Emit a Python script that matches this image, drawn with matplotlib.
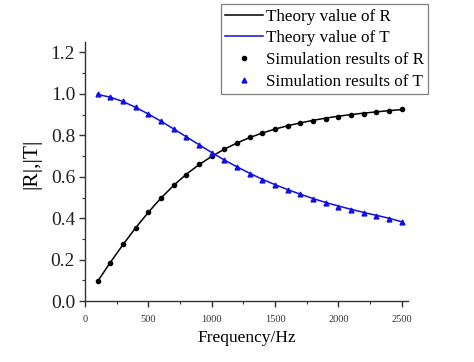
import matplotlib
matplotlib.use("Agg")
import matplotlib.pyplot as plt
from matplotlib.ticker import MultipleLocator

plt.rcParams['font.family'] = ['Liberation Serif', 'DejaVu Serif']

freq = [100, 200, 300, 400, 500, 600, 700, 800, 900, 1000, 1100, 1200, 1300,
        1400, 1500, 1600, 1700, 1800, 1900, 2000, 2100, 2200, 2300, 2400, 2500]

# theory curves
r_theory = [0.095, 0.186, 0.272, 0.353, 0.428, 0.497, 0.558, 0.612, 0.658, 0.698,
            0.733, 0.763, 0.789, 0.811, 0.830, 0.846, 0.860, 0.872, 0.883, 0.892,
            0.900, 0.907, 0.913, 0.919, 0.924]
t_theory = [0.997, 0.984, 0.963, 0.935, 0.903, 0.868, 0.831, 0.793, 0.755, 0.717,
            0.681, 0.648, 0.617, 0.588, 0.562, 0.538, 0.516, 0.495, 0.476, 0.459,
            0.443, 0.428, 0.414, 0.400, 0.383]

# simulation points
r_sim = [0.095, 0.185, 0.275, 0.355, 0.43, 0.50, 0.56, 0.61, 0.66, 0.70,
         0.735, 0.765, 0.79, 0.81, 0.83, 0.845, 0.86, 0.87, 0.88, 0.89,
         0.898, 0.905, 0.912, 0.918, 0.925]
t_sim = [0.997, 0.985, 0.965, 0.935, 0.905, 0.87, 0.83, 0.79, 0.753, 0.715,
         0.68, 0.645, 0.615, 0.585, 0.56, 0.535, 0.515, 0.495, 0.475, 0.455,
         0.44, 0.425, 0.41, 0.395, 0.38]

fig = plt.figure(figsize=(4.74, 3.62), dpi=100)
ax = fig.add_axes([0.179, 0.168, 0.682, 0.716])

ax.plot(freq, r_theory, color='black', lw=1.1, label='Theory value of R')
ax.plot(freq, t_theory, color='#1010e0', lw=1.1, label='Theory value of T')
ax.plot(freq, r_sim, 'o', color='black', ms=3, ls='none', label='Simulation results of R')
ax.plot(freq, t_sim, '^', color='#1010e0', ms=3.5, ls='none', label='Simulation results of T')

ax.set_xlim(0, 2550)
ax.set_ylim(0, 1.25)
ax.xaxis.set_major_locator(MultipleLocator(500))
ax.xaxis.set_minor_locator(MultipleLocator(250))
ax.yaxis.set_major_locator(MultipleLocator(0.2))
ax.yaxis.set_minor_locator(MultipleLocator(0.1))
ax.yaxis.set_major_formatter(plt.FormatStrFormatter('%.1f'))

for s in ['top', 'right']:
    ax.spines[s].set_visible(False)
for s in ['left', 'bottom']:
    ax.spines[s].set_linewidth(1.0)
    ax.spines[s].set_color('#333333')

ax.tick_params(axis='both', which='major', direction='out', length=4, width=1, color='#333333')
ax.tick_params(axis='both', which='minor', direction='out', length=2.5, width=0.8, color='#333333')
ax.tick_params(axis='x', labelsize=7.5, pad=6, labelcolor='#333333')
ax.tick_params(axis='y', labelsize=14, pad=3, labelcolor='#222222')

ax.set_xlabel('Frequency/Hz', fontsize=12.5, labelpad=4)
ax.set_ylabel('|R|,|T|', fontsize=15.5)
ax.yaxis.set_label_coords(-0.135, 0.53)

leg = fig.legend(loc='upper right', bbox_to_anchor=(0.904, 0.988), fontsize=12.3,
                 frameon=True, fancybox=False, edgecolor='#808080', framealpha=1,
                 handlelength=2.2, handletextpad=0.2, borderpad=0.25, labelspacing=0.34,
                 borderaxespad=0)
leg.get_frame().set_linewidth(0.9)

fig.savefig('out.png', dpi=100)
